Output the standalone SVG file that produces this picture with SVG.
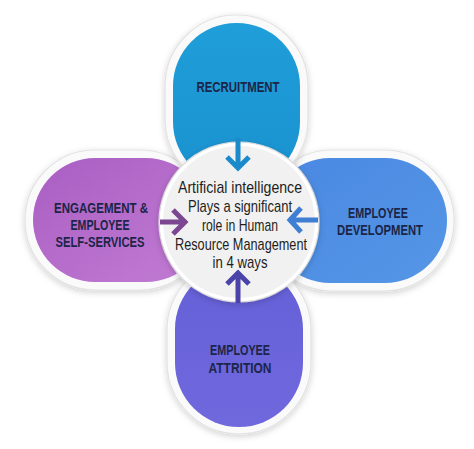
<svg xmlns="http://www.w3.org/2000/svg" width="474" height="449" viewBox="0 0 474 449">
<defs>
<filter id="sh" x="-20%" y="-20%" width="140%" height="140%">
<feDropShadow dx="0" dy="2" stdDeviation="3" flood-color="#000" flood-opacity="0.18"/>
</filter>
<linearGradient id="gTop" x1="0" y1="0" x2="0" y2="1"><stop offset="0" stop-color="#1F9ED9"/><stop offset="1" stop-color="#1A92D0"/></linearGradient>
<linearGradient id="gLeft" x1="0" y1="0" x2="1" y2="1"><stop offset="0" stop-color="#A95EC2"/><stop offset="1" stop-color="#C27CD4"/></linearGradient>
<linearGradient id="gRight" x1="0" y1="0" x2="1" y2="1"><stop offset="0" stop-color="#4A88E2"/><stop offset="1" stop-color="#5596E6"/></linearGradient>
<linearGradient id="gBot" x1="0" y1="0" x2="0" y2="1"><stop offset="0" stop-color="#6560D8"/><stop offset="1" stop-color="#7068DD"/></linearGradient>
</defs>
<style>
.frame{fill:#FAFAFA;stroke:#E2E2E2;stroke-width:1.2;filter:url(#sh)}
.lbl{font-family:"Liberation Sans",Arial,sans-serif;font-weight:bold;font-size:14px;fill:#1B2548;text-anchor:middle}
.ctr{font-family:"Liberation Sans",Arial,sans-serif;font-size:17px;fill:#1E1E1E;text-anchor:middle}
.arr{fill:none;stroke-width:5;stroke-linecap:butt;stroke-linejoin:miter}
</style>
<rect width="474" height="449" fill="#FFFFFF"/>

<g id="node-left">
<rect class="frame" x="25" y="150" width="185" height="140" rx="70"/>
<rect x="33" y="158" width="175" height="124" rx="62" fill="url(#gLeft)"/>
<text class="lbl"><tspan x="101" y="213" textLength="94" lengthAdjust="spacingAndGlyphs">ENGAGEMENT &amp;</tspan><tspan x="100" y="230" textLength="59" lengthAdjust="spacingAndGlyphs">EMPLOYEE</tspan><tspan x="100" y="247" textLength="89" lengthAdjust="spacingAndGlyphs">SELF-SERVICES</tspan></text>
</g>

<g id="node-right">
<rect class="frame" x="262" y="150" width="192" height="141" rx="70"/>
<rect x="268" y="158" width="179" height="125" rx="62" fill="url(#gRight)"/>
<text class="lbl"><tspan x="378" y="218" textLength="60" lengthAdjust="spacingAndGlyphs">EMPLOYEE</tspan><tspan x="380" y="235" textLength="86" lengthAdjust="spacingAndGlyphs">DEVELOPMENT</tspan></text>
</g>

<g id="node-top">
<rect class="frame" x="165" y="15" width="143" height="175" rx="71"/>
<rect x="173" y="23" width="127" height="162" rx="63" fill="url(#gTop)"/>
<text class="lbl" x="238" y="92" textLength="83" lengthAdjust="spacingAndGlyphs">RECRUITMENT</text>
</g>

<g id="node-bottom">
<rect class="frame" x="167" y="258" width="144" height="176" rx="72"/>
<rect x="175" y="265" width="128" height="162" rx="64" fill="url(#gBot)"/>
<text class="lbl"><tspan x="240" y="355" textLength="60" lengthAdjust="spacingAndGlyphs">EMPLOYEE</tspan><tspan x="240" y="373" textLength="63" lengthAdjust="spacingAndGlyphs">ATTRITION</tspan></text>
</g>

<g id="node-center">
<circle cx="239" cy="222" r="80" fill="#FFFFFF" stroke="#DADADA" stroke-width="1.2" filter="url(#sh)"/>
<circle cx="239" cy="222" r="76" fill="#F1F1F1"/>
<text class="ctr"><tspan x="240" y="193" textLength="124" lengthAdjust="spacingAndGlyphs">Artificial intelligence</tspan><tspan x="240" y="212" textLength="104" lengthAdjust="spacingAndGlyphs">Plays a significant</tspan><tspan x="240" y="231" textLength="76" lengthAdjust="spacingAndGlyphs">role in Human</tspan><tspan x="241" y="250" textLength="132" lengthAdjust="spacingAndGlyphs">Resource Management</tspan><tspan x="240" y="268" textLength="55" lengthAdjust="spacingAndGlyphs">in 4 ways</tspan></text>
</g>

<g id="connectors">
<path class="arr" stroke="#1A8ACB" d="M238 138 V168 M227 157 L238 168 L249 157"/>
<path class="arr" stroke="#7A4790" d="M160 222 H185 M173 210 L185 222 L173 234"/>
<path class="arr" stroke="#3E7ED3" d="M318 220 H290 M301 208 L290 220 L301 232"/>
<path class="arr" stroke="#4A43A8" d="M238 303 V273 M227 284 L238 273 L249 284"/>
</g>
</svg>
